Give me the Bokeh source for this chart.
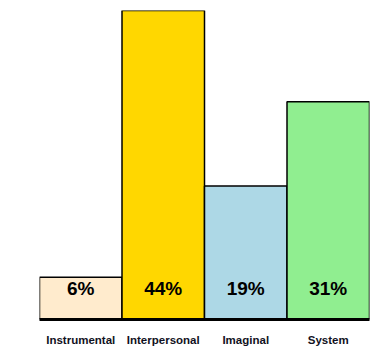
from bokeh.plotting import figure
from bokeh.models import ColumnDataSource, FactorRange, Range1d
from bokeh.core.properties import value
from bokeh.embed import file_html
from bokeh.resources import INLINE

categories = ["Instrumental", "Interpersonal", "Imaginal", "System"]
percents = [6, 44, 19, 31]
labels = ["6%", "44%", "19%", "31%"]
colors = ["#FFEBCD", "#FFD700", "#ADD8E6", "#90EE90"]
label_y = [4.4, 4.4, 4.4, 4.4]

src = ColumnDataSource(dict(cat=categories, val=percents, lab=labels, col=colors, ly=label_y))

p = figure(width=387, height=355, output_backend="svg", toolbar_location=None,
           x_range=FactorRange(*categories, range_padding=0), y_range=Range1d(0, 44),
           min_border_left=39, min_border_right=18, min_border_top=10, min_border_bottom=36)
p.outline_line_color = None
p.xgrid.visible = False
p.ygrid.visible = False
p.yaxis.visible = False

p.vbar(x="cat", top="val", bottom=0, width=1.0, source=src, fill_color="col",
       line_color="black", line_width=1.5)
p.text(x="cat", y="ly", text="lab", source=src, text_align="center", text_baseline="middle",
       text_font=value("Liberation Sans"), text_font_style="bold", text_font_size="19px",
       text_color="black")

ax = p.xaxis[0]
ax.axis_line_width = 3
ax.axis_line_color = "black"
ax.major_tick_line_color = None
ax.minor_tick_line_color = None
ax.major_label_text_font = "Liberation Sans"
ax.major_label_text_font_style = "bold"
ax.major_label_text_font_size = "11.5px"
ax.major_label_text_color = "#111122"
ax.major_label_standoff = 8

open("out.html", "w").write(file_html(p, INLINE))
